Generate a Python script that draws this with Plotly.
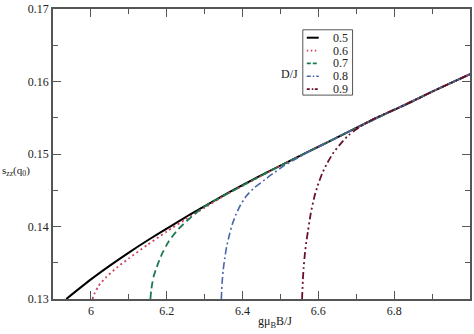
import plotly.graph_objects as go

# D/J = 0.5 (solid black)
x_05 = [5.935, 6.0, 6.05, 6.1, 6.15, 6.2, 6.25, 6.3, 6.35, 6.4, 6.45, 6.5, 6.55, 6.6, 6.65, 6.7, 6.75, 6.8, 6.85, 6.9, 6.95, 7.0]
y_05 = [0.1300, 0.1327, 0.1346, 0.1364, 0.1381, 0.1397, 0.1413, 0.1428, 0.1443, 0.1457, 0.1471, 0.1484, 0.1497, 0.1510, 0.1523, 0.1536, 0.1549, 0.1561, 0.1573, 0.1586, 0.1598, 0.1610]

# D/J = 0.6 (red dotted)
x_06 = [6.004, 6.01, 6.02, 6.04, 6.07, 6.1, 6.15, 6.2, 6.25, 6.3, 6.35, 6.4, 6.5, 6.6, 6.7, 6.8, 6.9, 7.0]
y_06 = [0.1300, 0.1308, 0.1318, 0.1330, 0.1344, 0.1356, 0.1375, 0.1393, 0.1410, 0.1426, 0.1442, 0.1456, 0.1484, 0.1510, 0.1536, 0.1561, 0.1586, 0.1610]

# D/J = 0.7 (green dashed)
x_07 = [6.157, 6.159, 6.162, 6.166, 6.171, 6.18, 6.19, 6.206, 6.23, 6.258, 6.29, 6.33, 6.37, 6.42, 6.5, 6.6, 6.7, 6.8, 6.9, 7.0]
y_07 = [0.1300, 0.1312, 0.1322, 0.1332, 0.1340, 0.1353, 0.1365, 0.1380, 0.1396, 0.1410, 0.1424, 0.1437, 0.1448, 0.1462, 0.1484, 0.1510, 0.1536, 0.1561, 0.1586, 0.1610]

# D/J = 0.8 (blue dash-dot)
x_08 = [6.344, 6.346, 6.349, 6.353, 6.358, 6.365, 6.373, 6.383, 6.395, 6.41, 6.43, 6.455, 6.48, 6.51, 6.54, 6.57, 6.6, 6.65, 6.7, 6.8, 6.9, 7.0]
y_08 = [0.1300, 0.1322, 0.1340, 0.1356, 0.1372, 0.1388, 0.1403, 0.1417, 0.1430, 0.1442, 0.1453, 0.1463, 0.1473, 0.1484, 0.1493, 0.1502, 0.1510, 0.1523, 0.1536, 0.1561, 0.1586, 0.1610]

# D/J = 0.9 (maroon dash-dot-dot)
x_09 = [6.557, 6.559, 6.561, 6.564, 6.568, 6.573, 6.580, 6.589, 6.598, 6.61, 6.624, 6.64, 6.66, 6.68, 6.7, 6.73, 6.76, 6.8, 6.9, 7.0]
y_09 = [0.1300, 0.1325, 0.1342, 0.1360, 0.1378, 0.1395, 0.1418, 0.1440, 0.1456, 0.1473, 0.1488, 0.1502, 0.1515, 0.1526, 0.1534, 0.1544, 0.1552, 0.1561, 0.1586, 0.1610]

labels = ["0.5", "0.6", "0.7", "0.8", "0.9"]
xs = [x_05, x_06, x_07, x_08, x_09]
ys = [y_05, y_06, y_07, y_08, y_09]
colors = ["#000000", "#d0405a", "#1d7a50", "#4a66a8", "#6a0f2c"]
dashes = ["solid", "2px,3px", "7px,4px", "7px,3px,2px,3px", "7px,3px,2px,3px,2px,3px"]
legend_dashes = ["solid", "1.5px,2.5px", "4px,2px", "4px,2px,1.5px,2px", "3px,2px,1.5px,1.5px"]
widths = [2.0, 1.8, 1.8, 1.6, 1.8]

x_ticks = [6.0, 6.2, 6.4, 6.6, 6.8]
x_ticklabels = ["6", "6.2", "6.4", "6.6", "6.8"]
y_ticks = [0.13, 0.14, 0.15, 0.16, 0.17]
y_ticklabels = ["0.13", "0.14", "0.15", "0.16", "0.17"]

FONT = "Liberation Serif"
AX = "#555555"

fig = go.Figure()
for x, y, c, d, w, n in zip(xs, ys, colors, dashes, widths, labels):
    fig.add_trace(go.Scatter(x=x, y=y, mode="lines", name=n, showlegend=False,
                             line=dict(color=c, dash=d, width=w, shape="spline", smoothing=0.6)))

axis_common = dict(showline=True, linecolor=AX, linewidth=1.5, mirror="ticks",
                   ticks="inside", ticklen=8, tickcolor=AX, tickwidth=1.2,
                   showgrid=False, zeroline=False, ticklabeloverflow="allow",
                   tickfont=dict(family=FONT, size=12, color="#222"))

fig.update_xaxes(range=[5.9, 7.0], tickvals=x_ticks, ticktext=x_ticklabels,
                 minor=dict(ticks="inside", ticklen=5, tickcolor=AX, tickwidth=1.2,
                            tickmode="linear", tick0=6.0, dtick=0.1),
                 **axis_common)
fig.update_yaxes(range=[0.1299999, 0.1700001], tickvals=y_ticks, ticktext=y_ticklabels,
                 minor=dict(ticks="inside", ticklen=5, tickcolor=AX, tickwidth=1.2,
                            tickmode="linear", tick0=0.13, dtick=0.005),
                 **axis_common)

# custom legend (pixel geometry converted to paper coords)
L, R, T, B = 53, 472, 6, 299
W, H = R - L, B - T
def px(xp): return (xp - L) / W
def py(yp): return (B - yp) / H

shapes = [dict(type="rect", xref="paper", yref="paper", x0=px(304), x1=px(354), y0=py(93), y1=py(27),
               line=dict(color="#555", width=1), fillcolor="white", layer="above")]
annotations = []
for i, (n, c, d, w) in enumerate(zip(labels, colors, legend_dashes, widths)):
    yy = 35 + 13 * i
    shapes.append(dict(type="line", xref="paper", yref="paper", x0=px(308), x1=px(320), y0=py(yy), y1=py(yy),
                       line=dict(color=c, dash=d, width=w), layer="above"))
    annotations.append(dict(xref="paper", yref="paper", x=px(332), y=py(yy), text=n, showarrow=False,
                            xanchor="left", yanchor="middle", font=dict(family=FONT, size=12, color="#222")))
annotations.append(dict(xref="paper", yref="paper", x=px(291), y=py(72), text="D/J", showarrow=False,
                        xanchor="center", yanchor="middle", font=dict(family=FONT, size=12, color="#222")))
annotations.append(dict(xref="paper", yref="paper", x=px(0), y=py(170), text="s<sub>zz</sub>(q<sub>0</sub>)",
                        showarrow=False, xanchor="left", yanchor="middle", font=dict(family=FONT, size=11, color="#222")))
annotations.append(dict(xref="paper", yref="paper", x=px(276), y=py(322), text="gμ<sub>B</sub>B/J",
                        showarrow=False, xanchor="center", yanchor="middle", font=dict(family=FONT, size=12, color="#222")))

fig.update_layout(width=474, height=334, margin=dict(l=L, r=474 - R, t=T, b=334 - B),
                  paper_bgcolor="white", plot_bgcolor="white", showlegend=False,
                  shapes=shapes, annotations=annotations)

fig.write_html("out.html")
